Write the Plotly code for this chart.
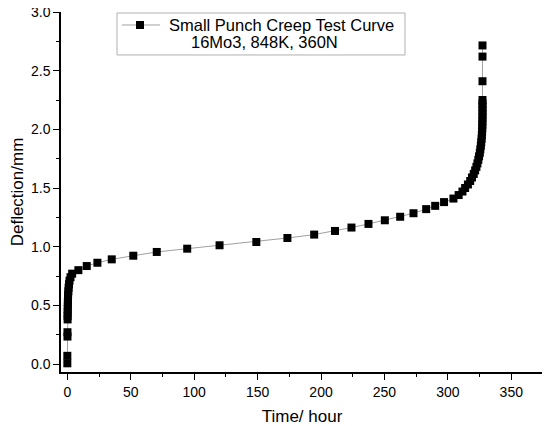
import plotly.graph_objects as go

# Small punch creep test: time (hour) vs deflection (mm)
time_h = [
    0.0, 0.0, 0.1, 0.1, 0.2, 0.2, 0.3, 0.3, 0.4, 0.4,
    0.5, 0.6, 0.8, 1.0, 1.3, 1.7, 2.5, 3.8, 8.7, 15.3,
    23.7, 35.0, 52.0, 70.5, 94.5, 120.0, 149.0, 173.5, 194.6, 211.0,
    224.0, 237.4, 250.3, 262.4, 272.9, 282.9, 290.0, 297.0, 304.4, 308.5,
    311.5, 313.6, 315.8, 317.6, 319.0, 320.4, 321.5, 322.5, 323.3, 324.0,
    324.6, 325.2, 325.6, 326.0, 326.3, 326.6, 326.8, 327.0, 327.1, 327.2,
    327.2, 327.3, 327.3, 327.3, 327.3, 327.3, 327.3, 327.3, 327.3, 327.3,
]
deflection_mm = [
    0.006, 0.07, 0.234, 0.271, 0.38, 0.41, 0.44, 0.47, 0.50, 0.53,
    0.56, 0.59, 0.62, 0.65, 0.68, 0.71, 0.74, 0.77, 0.80, 0.835,
    0.863, 0.892, 0.923, 0.955, 0.983, 1.012, 1.04, 1.074, 1.103, 1.134,
    1.163, 1.194, 1.225, 1.255, 1.285, 1.32, 1.348, 1.38, 1.41, 1.44,
    1.47, 1.50, 1.53, 1.56, 1.59, 1.62, 1.65, 1.68, 1.71, 1.74,
    1.77, 1.80, 1.83, 1.86, 1.89, 1.92, 1.95, 1.98, 2.01, 2.04,
    2.07, 2.10, 2.13, 2.16, 2.19, 2.22, 2.25, 2.41, 2.62, 2.715,
]

series_name = 'Small Punch Creep Test Curve'
series_note = '16Mo3, 848K, 360N'

font_family = "Arial, Liberation Sans, sans-serif"
line_grey = '#a0a0a0'

fig = go.Figure()

fig.add_trace(go.Scatter(
    x=time_h,
    y=deflection_mm,
    mode='lines+markers',
    name=series_name,
    line=dict(color=line_grey, width=1),
    marker=dict(symbol='square', size=8, color='black', line=dict(width=0)),
    showlegend=False,
))

axis_common = dict(
    showline=True,
    linecolor='black',
    linewidth=1.5,
    showgrid=False,
    zeroline=False,
    automargin=False,
    ticks='outside',
    ticklen=6,
    tickwidth=1,
    tickcolor='black',
    ticklabeloverflow='allow',
    tickfont=dict(family=font_family, size=14, color='black'),
)

fig.update_xaxes(
    range=[-5, 375],
    dtick=50,
    tick0=0,
    minor=dict(ticks='outside', ticklen=3, dtick=25, tickcolor='black'),
    title=dict(text='Time/ hour', font=dict(family=font_family, size=17, color='black'), standoff=13),
    **axis_common
)
fig.update_yaxes(
    range=[-0.068, 3.0],
    dtick=0.5,
    tick0=0,
    tickformat='.1f',
    minor=dict(ticks='outside', ticklen=3, dtick=0.25, tickcolor='black'),
    title=dict(text='Deflection/mm', font=dict(family=font_family, size=17, color='black'), standoff=7),
    **axis_common
)

# legend box drawn by hand (Plotly's legend can't sit this close to the top)
fig.add_shape(
    type='rect', xref='paper', yref='paper',
    x0=0.1162, x1=0.7137, y0=0.8806, y1=0.9972,
    line=dict(color='#b0b0b0', width=1),
    fillcolor='white', layer='below',
)
fig.add_shape(
    type='line', xref='paper', yref='paper',
    x0=0.1266, x1=0.2054, y0=0.9639, y1=0.9639,
    line=dict(color=line_grey, width=1),
)
fig.add_shape(
    type='rect', xref='paper', yref='paper',
    x0=0.1556, x1=0.1722, y0=0.9528, y1=0.975,
    line=dict(width=0), fillcolor='black',
)
fig.add_annotation(
    text=series_name, xref='paper', yref='paper',
    x=0.2199, y=0.965, xanchor='left', yanchor='middle',
    showarrow=False, font=dict(family=font_family, size=16.5, color='black'),
)
fig.add_annotation(
    text=series_note, xref='paper', yref='paper',
    x=0.2656, y=0.9167, xanchor='left', yanchor='middle',
    showarrow=False, font=dict(family=font_family, size=16.5, color='black'),
)

# the page body has an 8px margin, so the figure is drawn 8px smaller
fig.update_layout(
    width=542,
    height=418,
    margin=dict(l=53, r=7, t=4, b=54),
    plot_bgcolor='white',
    paper_bgcolor='white',
    showlegend=False,
)

fig.write_html("out.html")
